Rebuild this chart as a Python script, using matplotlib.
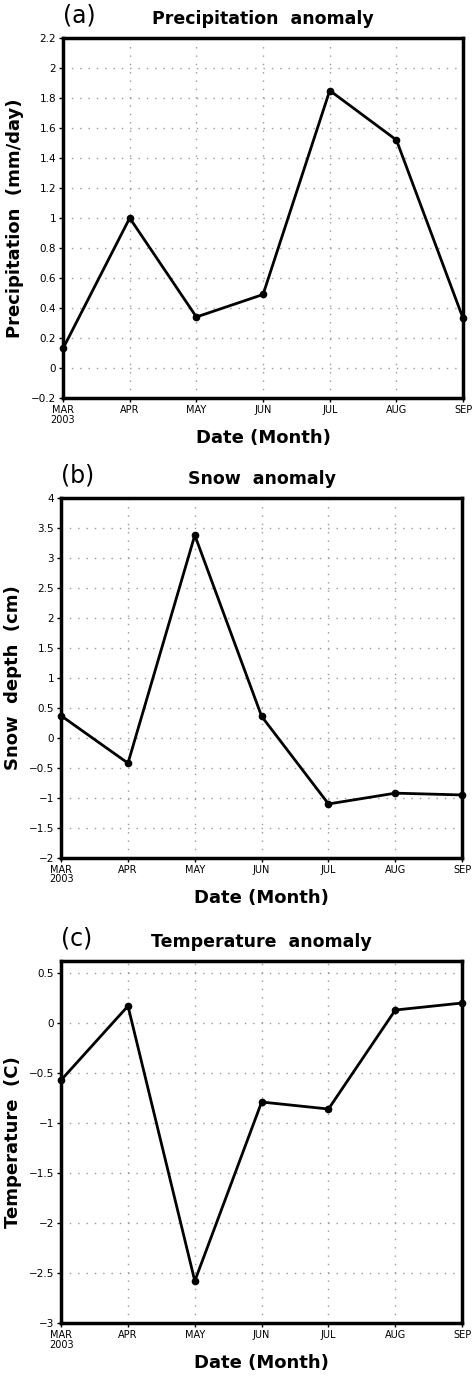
import numpy as np
import matplotlib
matplotlib.use('Agg')
import matplotlib.pyplot as plt

months = ['MAR\n2003', 'APR', 'MAY', 'JUN', 'JUL', 'AUG', 'SEP']

precip = [0.13, 1.00, 0.34, 0.49, 1.85, 1.52, 0.33]
snow = [0.37, -0.42, 3.38, 0.36, -1.10, -0.92, -0.95]
temp = [-0.57, 0.17, -2.58, -0.79, -0.86, 0.13, 0.20]

panels = [
	('(a)', 'Precipitation  anomaly', 'Precipitation  (mm/day)', precip,
	 (-0.2, 2.2), np.arange(-0.2, 2.21, 0.2), [0.133, 0.7112, 0.844, 0.2612]),
	('(b)', 'Snow  anomaly', 'Snow  depth  (cm)', snow,
	 (-2, 4), np.arange(-2, 4.01, 0.5), [0.129, 0.3774, 0.846, 0.2612]),
	('(c)', 'Temperature  anomaly', 'Temperature  (C)', temp,
	 (-3, 0.62), np.arange(-3, 0.51, 0.5), [0.129, 0.0399, 0.846, 0.2627]),
]

def fmt(v):
	s = ('%.1f' % v).rstrip('0').rstrip('.')
	if s in ('-0', '-0.0'):
		s = '0'
	return s.replace('-', '\u2212')

fig = plt.figure(figsize=(4.74, 13.78), dpi=100)

for tag, title, ylab, vals, ylim, yt, rect in panels:
	ax = fig.add_axes(rect)
	x = np.arange(len(months))
	ax.plot(x, vals, color='black', lw=2.0, marker='o', ms=4.5, clip_on=False, zorder=3)
	ax.set_xlim(0, len(months) - 1)
	ax.set_ylim(*ylim)
	ax.set_xticks(x)
	ax.set_xticklabels(months, fontsize=7, linespacing=0.95)
	ax.set_yticks(yt)
	ax.set_yticklabels([fmt(v) for v in yt], fontsize=7.5)
	ax.tick_params(direction='out', length=3, width=1, pad=2)
	ax.grid(True, color='#999999', linestyle=(0, (1, 5)), lw=1.0)
	for sp in ax.spines.values():
		sp.set_linewidth(2.5)
	ax.set_xlabel('Date (Month)', fontsize=13, fontweight='bold', labelpad=3)
	ax.set_ylabel(ylab, fontsize=13, fontweight='bold', labelpad=5)
	ax.set_title(title, fontsize=12.5, fontweight='bold', pad=10)
	ax.text(-0.0, 1.03, tag, transform=ax.transAxes, fontsize=17, ha='left', va='bottom')

fig.savefig('out.png', dpi=100)
